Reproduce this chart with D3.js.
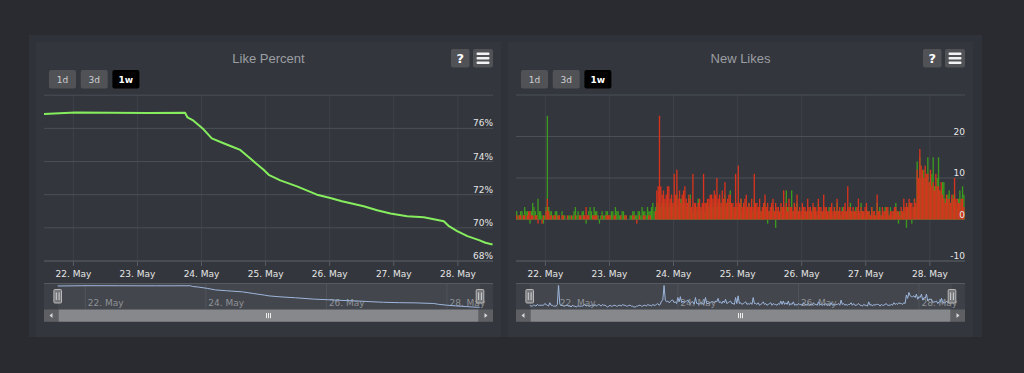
<!DOCTYPE html>
<html lang="en">
<head>
  <meta charset="UTF-8">
  <title>Like Percent / New Likes</title>
  <script src="https://d3js.org/d3.v7.min.js"></script>
  <style>
    body {
      margin: 0;
      background: #292b30;
    }

    svg {
      display: block;
    }

    .axis-label {
      font-family: "DejaVu Sans", sans-serif;
      font-size: 9px;
      fill: #e6e6e6;
    }

    .nav-label {
      font-family: "DejaVu Sans", sans-serif;
      font-size: 9px;
      fill: #8f9296;
    }

    .title {
      font-family: "Liberation Sans", Arial, sans-serif;
      font-size: 13px;
      fill: #9c9ea2;
    }

    .btn-text {
      font-family: "DejaVu Sans", sans-serif;
      font-size: 9px;
      fill: #cfd0d2;
    }
  </style>
</head>
<body>
  <svg id="chart" width="1024" height="373"></svg>
  <script>
    // Like Percent
    const likeTimes = [
      "2015-05-21 13:00", "2015-05-22 00:40", "2015-05-22 13:45", "2015-05-23 04:00",
      "2015-05-23 17:50", "2015-05-23 18:45", "2015-05-23 21:00", "2015-05-24 00:45",
      "2015-05-24 03:50", "2015-05-24 08:15", "2015-05-24 12:00", "2015-05-24 14:30",
      "2015-05-24 18:50", "2015-05-24 23:15", "2015-05-25 01:10", "2015-05-25 05:30",
      "2015-05-25 11:45", "2015-05-25 19:15", "2015-05-26 00:15", "2015-05-26 04:35",
      "2015-05-26 12:45", "2015-05-26 17:45", "2015-05-26 22:45", "2015-05-27 05:00",
      "2015-05-27 11:15", "2015-05-27 18:45", "2015-05-27 20:40", "2015-05-27 23:45",
      "2015-05-28 03:35", "2015-05-28 07:55", "2015-05-28 10:20", "2015-05-28 13:00"
    ];
    const likePercent = [
      76.86, 76.96, 76.94, 76.92, 76.94, 76.66, 76.46, 75.94,
      75.4, 75.1, 74.86, 74.7, 74.1, 73.5, 73.2, 72.86,
      72.5, 72.0, 71.8, 71.6, 71.3, 71.06, 70.86, 70.7,
      70.64, 70.4, 70.1, 69.8, 69.5, 69.26, 69.1, 69.0
    ];

    // New Likes, 30 minute buckets from 21 May 13:00 (one row = 6 hours)
    const newLikesStart = "2015-05-21 13:00";
    const greenLikes = [
      2, 1, 1, 2, 2, 1, 3, 2, 2, 1, -1, 2,
      4, 3, 2, 1, 5, 2, 2, 1, -1, 1, 3, 25,
      3, 2, 2, 1, 1, 2, 2, 1, 1, 0, 2, 1,
      1, 0, 0, 1, 1, 0, 1, 2, 3, 1, 2, 1,
      1, 2, 2, 1, -1, 1, 2, 3, 2, 1, 3, 2,
      2, 1, -1, 1, 2, 1, 1, 2, 2, 1, 1, 2,
      2, 1, 3, 2, 2, 1, 1, 2, 2, 1, 1, 0,
      0, 1, 1, 2, 2, 1, 1, 2, 2, 1, 3, 2,
      2, 1, 3, 2, 2, 3, 4, 2, 3, 4, 4, 3,
      3, 4, 5, 3, 4, 5, 3, 4, 5, 3, 4, 5,
      6, 3, 3, 5, 5, 4, 4, 3, 3, 5, 6, 2,
      2, 3, 3, 2, 5, 3, 2, 3, 3, 2, 4, 3,
      3, 4, 5, 3, 4, 5, 3, 4, 5, 3, 4, 3,
      6, 3, 3, 4, 7, 3, 3, 2, 4, 3, 3, 2,
      5, 2, 4, 3, 2, 3, 4, 2, 3, 2, 5, 3,
      2, 3, 3, 2, 2, 3, 4, 2, -1, 2, 2, 3,
      3, 2, -2, 2, 2, 1, 3, 2, 4, 2, 7, 3,
      3, 2, 7, 2, 2, 3, 4, 2, 2, 1, 3, 2,
      2, 1, 3, 2, 2, 1, 3, 2, 2, 1, 4, 2,
      2, 1, 3, 2, 2, 1, 3, 2, 2, 1, 3, 2,
      4, 2, 2, 1, 3, 2, 2, 1, 3, 2, 4, 2,
      2, 1, 3, 2, 2, 1, 4, 2, 2, 1, 3, 2,
      2, 1, 3, 1, 2, 1, 4, 2, 3, 1, 2, 1,
      3, 2, 2, 1, 3, 1, 2, 1, 4, 2, -1, 2,
      2, 1, 3, 2, -2, 3, 4, 2, -1, 3, 5, 3,
      14, 9, 15, 10, 9, 12, 10, 8, 15, 9, 9, 11,
      15, 8, 8, 10, 15, 7, 7, 9, 9, 5, 4, 6,
      7, 4, 5, 6, 6, 4, 3, 5, 7, 5, 8, 6
    ];
    const redLikes = [
      1, 0, 1, 1, 0, 1, 1, 0, 1, 2, 2, 1,
      1, 0, 1, 1, -1, 0, 0, -1, 1, 0, 2, 5,
      2, 1, 1, 0, 1, 1, 0, 1, 1, 0, 1, 1,
      0, 0, 1, 0, 0, 1, 0, 0, 1, 0, 0, 1,
      1, 0, 1, 1, 3, 1, 1, 0, 0, 1, 1, 1,
      1, 0, 0, 0, 1, 0, 0, 1, 1, 1, 1, 0,
      0, 1, 1, 0, 0, 0, 1, 0, 0, 1, 1, 0,
      0, 0, 0, 1, 1, 0, -1, 0, 1, 0, 0, 1,
      1, 0, 0, 1, 1, 0, 0, 0, 2, 7, 8, 25,
      8, 6, 7, 5, 6, 8, 8, 5, 6, 4, 11, 6,
      12, 5, 7, 4, 6, 7, 8, 5, 4, 6, 5, 3,
      11, 4, 4, 3, 4, 5, 3, 4, 11, 4, 4, 5,
      5, 6, 6, 5, 7, 6, 10, 5, 6, 4, 7, 5,
      9, 4, 5, 6, 6, 4, 4, 3, 11, 4, 13, 4,
      5, 3, 4, 5, 6, 3, 4, 3, 5, 3, 11, 4,
      4, 3, 5, 2, 3, 4, 6, 3, 4, 2, 3, 4,
      5, 2, 4, 3, 3, 2, 4, 3, 7, 3, 4, 2,
      5, 3, 3, 2, 4, 3, 6, 2, 3, 2, 4, 3,
      3, 2, 5, 3, 3, 2, 4, 3, 3, 2, 5, 3,
      3, 2, 6, 3, 3, 2, 2, 3, 4, 2, 3, 2,
      5, 2, 3, 2, 2, 3, 4, 2, 8, 3, 3, 2,
      3, 2, 2, 3, 5, 2, 3, 2, 2, 3, 4, 2,
      2, 1, 3, 2, 2, 1, 6, 2, 2, 1, 3, 2,
      2, 3, 3, 1, 2, 2, 2, 3, 3, 2, 2, 1,
      3, 2, 5, 3, 4, 3, 5, 4, 4, 3, 5, 4,
      12, 10, 17, 13, 12, 10, 13, 11, 11, 9, 12, 8,
      9, 7, 11, 8, 8, 7, 9, 6, 5, 4, 6, 5,
      5, 4, 6, 5, 10, 5, 5, 4, 4, 5, 5, 3
    ];

    // Axes
    const dayTicks = ["2015-05-22", "2015-05-23", "2015-05-24", "2015-05-25", "2015-05-26", "2015-05-27", "2015-05-28"];
    const navTicks = ["2015-05-22", "2015-05-24", "2015-05-26", "2015-05-28"];
    const percentTicks = [68, 70, 72, 74, 76, 78];
    const likesTicks = [-10, 0, 10, 20, 30];
    const rangeButtons = ["1d", "3d", "1w"];

    const parseTime = d3.timeParse("%Y-%m-%d %H:%M");
    const parseDay = d3.timeParse("%Y-%m-%d");
    const fmtDay = d3.timeFormat("%d. %b");
    const rangeStart = parseTime("2015-05-21 13:00");
    const rangeEnd = parseTime("2015-05-28 13:10");

    const svg = d3.select("#chart");

    // page frame
    svg.append("rect").attr("width", 1024).attr("height", 373).attr("fill", "#292b30");
    svg.append("rect").attr("x", 29).attr("y", 35).attr("width", 953).attr("height", 302).attr("fill", "#2f3238");

    function drawPanel(px, title) {
      const p = { left: px + 8, right: px + 457, top: 95, bottom: 261 };

      svg.append("rect")
        .attr("x", px).attr("y", 42).attr("width", 465).attr("height", 295)
        .attr("fill", "#33363d");

      svg.append("text")
        .attr("class", "title")
        .attr("x", (p.left + p.right) / 2)
        .attr("y", 62.5)
        .attr("text-anchor", "middle")
        .text(title);

      // range selector buttons
      const btn = svg.append("g");
      rangeButtons.forEach((b, i) => {
        const bx = px + 13 + i * 31.7;
        const active = b === "1w";
        btn.append("rect")
          .attr("x", bx).attr("y", 70).attr("width", 27).attr("height", 18.5).attr("rx", 2)
          .attr("fill", active ? "#000" : "#505256");
        btn.append("text")
          .attr("class", "btn-text")
          .attr("x", bx + 13.5).attr("y", 82.5)
          .attr("text-anchor", "middle")
          .style("fill", active ? "#fff" : null)
          .style("font-weight", active ? "bold" : null)
          .text(b);
      });

      // help + menu buttons
      svg.append("rect")
        .attr("x", px + 415).attr("y", 49).attr("width", 18.5).attr("height", 18.5).attr("rx", 2)
        .attr("fill", "#505256");
      svg.append("text")
        .attr("x", px + 424.2).attr("y", 63)
        .attr("text-anchor", "middle")
        .attr("font-family", "DejaVu Sans, sans-serif")
        .attr("font-size", 13).attr("font-weight", "bold")
        .attr("fill", "#fff")
        .text("?");
      svg.append("rect")
        .attr("x", px + 437).attr("y", 49).attr("width", 20).attr("height", 18.5).attr("rx", 2)
        .attr("fill", "#505256");
      [0, 1, 2].forEach(i => {
        svg.append("rect")
          .attr("x", px + 440.5).attr("y", 52.5 + i * 4.5).attr("width", 13).attr("height", 2.6)
          .attr("rx", 1).attr("fill", "#f2f2f2");
      });

      const x = d3.scaleTime().domain([rangeStart, rangeEnd]).range([p.left, p.right]);
      const days = dayTicks.map(parseDay);

      // vertical grid
      svg.append("g")
        .selectAll("line")
        .data(days)
        .enter()
        .append("line")
        .attr("x1", d => x(d)).attr("x2", d => x(d))
        .attr("y1", p.top).attr("y2", p.bottom)
        .attr("stroke", "#3e4249");

      // x axis line, ticks, labels
      svg.append("line")
        .attr("x1", p.left).attr("x2", p.right)
        .attr("y1", p.bottom).attr("y2", p.bottom)
        .attr("stroke", "#5a5e65");
      svg.append("g")
        .selectAll("line")
        .data(days)
        .enter()
        .append("line")
        .attr("x1", d => x(d)).attr("x2", d => x(d))
        .attr("y1", p.bottom).attr("y2", p.bottom + 5)
        .attr("stroke", "#5a5e65");
      svg.append("g")
        .selectAll("text")
        .data(days)
        .enter()
        .append("text")
        .attr("class", "axis-label")
        .attr("x", d => x(d))
        .attr("y", 276.5)
        .attr("text-anchor", "middle")
        .text(d => fmtDay(d));

      // navigator
      const nav = { top: 283.5, bottom: 309.3 };
      svg.append("rect")
        .attr("x", p.left).attr("y", nav.top).attr("width", p.right - p.left).attr("height", nav.bottom - nav.top)
        .attr("fill", "#3d4047");
      const xNav = d3.scaleTime().domain([rangeStart, rangeEnd]).range([p.left + 13.7, p.right - 13]);
      svg.append("rect")
        .attr("x", xNav.range()[0]).attr("y", nav.top)
        .attr("width", xNav.range()[1] - xNav.range()[0]).attr("height", nav.bottom - nav.top)
        .attr("fill", "#43464d");
      svg.append("line")
        .attr("x1", p.left).attr("x2", p.right)
        .attr("y1", nav.top).attr("y2", nav.top)
        .attr("stroke", "#565a61");
      const navDays = navTicks.map(parseDay);
      svg.append("g")
        .selectAll("line")
        .data(navDays)
        .enter()
        .append("line")
        .attr("x1", d => xNav(d)).attr("x2", d => xNav(d))
        .attr("y1", nav.top).attr("y2", nav.bottom)
        .attr("stroke", "#50545b");
      svg.append("g")
        .selectAll("text")
        .data(navDays)
        .enter()
        .append("text")
        .attr("class", "nav-label")
        .attr("x", d => xNav(d) + 2.5)
        .attr("y", 305.5)
        .text(d => fmtDay(d));

      // scrollbar
      const sb = { y: 309.5, h: 12.2 };
      svg.append("rect")
        .attr("x", p.left).attr("y", sb.y).attr("width", p.right - p.left).attr("height", sb.h)
        .attr("fill", "#4a4c50");
      svg.append("rect")
        .attr("x", p.left + 14.5).attr("y", sb.y).attr("width", p.right - p.left - 29).attr("height", sb.h)
        .attr("fill", "#86888b");
      [p.left, p.right - 14].forEach((bx, i) => {
        svg.append("rect")
          .attr("x", bx).attr("y", sb.y).attr("width", 14).attr("height", sb.h)
          .attr("fill", "#5d5f63");
        const cx = bx + 7, cy = sb.y + sb.h / 2;
        const pts = i === 0
          ? [[cx + 1.5, cy - 2.5], [cx + 1.5, cy + 2.5], [cx - 1.5, cy]]
          : [[cx - 1.5, cy - 2.5], [cx - 1.5, cy + 2.5], [cx + 1.5, cy]];
        svg.append("path").attr("d", d3.line()(pts) + "Z").attr("fill", "#d8d8d8");
      });
      const gx = (p.left + p.right) / 2;
      [-2, 0, 2].forEach(o => {
        svg.append("line")
          .attr("x1", gx + o).attr("x2", gx + o)
          .attr("y1", sb.y + 3.5).attr("y2", sb.y + sb.h - 3.5)
          .attr("stroke", "#eeeeee");
      });

      return { p, x, xNav, nav };
    }

    function drawGrid(panel, y, ticks) {
      const p = panel.p;
      svg.append("g")
        .selectAll("line")
        .data(ticks)
        .enter()
        .append("line")
        .attr("x1", p.left).attr("x2", p.right)
        .attr("y1", d => y(d)).attr("y2", d => y(d))
        .attr("stroke", "#4b4f56");
    }

    function drawYLabels(panel, y, ticks, fmt) {
      // top tick has no label
      svg.append("g")
        .selectAll("text")
        .data(ticks.slice(0, -1))
        .enter()
        .append("text")
        .attr("class", "axis-label")
        .attr("x", panel.p.right)
        .attr("y", d => y(d) - 2)
        .attr("text-anchor", "end")
        .text(fmt);
    }

    function drawHandles(panel) {
      panel.xNav.range().forEach(hx => {
        svg.append("rect")
          .attr("x", hx - 3.8).attr("y", 289.5).attr("width", 7.6).attr("height", 13.5).attr("rx", 1)
          .attr("fill", "#76787c").attr("stroke", "#b8b8b8");
        [-1.4, 1.4].forEach(o => {
          svg.append("line")
            .attr("x1", hx + o).attr("x2", hx + o)
            .attr("y1", 292.5).attr("y2", 300)
            .attr("stroke", "#d0d0d0");
        });
      });
    }

    // ---------- Like Percent ----------
    const left = drawPanel(36, "Like Percent");
    const yPct = d3.scaleLinear().domain([68, 78]).range([261, 95.2]);
    drawGrid(left, yPct, percentTicks);

    const likeData = likeTimes.map((t, i) => ({ t: parseTime(t), v: likePercent[i] }));

    svg.append("path")
      .datum(likeData)
      .attr("fill", "none")
      .attr("stroke", "#86ee5e")
      .attr("stroke-width", 2)
      .attr("stroke-linejoin", "round")
      .attr("d", d3.line().x(d => left.x(d.t)).y(d => yPct(d.v)));

    drawYLabels(left, yPct, percentTicks, d => d + "%");

    const yPctNav = d3.scaleLinear().domain(d3.extent(likePercent)).range([307.3, 285.7]);
    svg.append("path")
      .datum(likeData)
      .attr("fill", "none")
      .attr("stroke", "#9db6dc")
      .attr("stroke-width", 1)
      .attr("d", d3.line().x(d => left.xNav(d.t)).y(d => yPctNav(d.v)));
    drawHandles(left);

    // ---------- New Likes ----------
    const right = drawPanel(508, "New Likes");
    const yLikes = d3.scaleLinear().domain([-10, 30]).range([261, 95]);
    drawGrid(right, yLikes, likesTicks);

    const t0 = parseTime(newLikesStart);
    const slotData = greenLikes.map((g, i) => ({
      t: d3.timeMinute.offset(t0, 30 * i),
      t1: d3.timeMinute.offset(t0, 30 * (i + 1)),
      green: g,
      red: redLikes[i]
    }));

    svg.append("clipPath")
      .attr("id", "likes-clip")
      .append("rect")
      .attr("x", right.p.left).attr("y", right.p.top)
      .attr("width", right.p.right - right.p.left).attr("height", right.p.bottom - right.p.top);

    const bars = svg.append("g").attr("clip-path", "url(#likes-clip)");
    [["green", "#3c9a1f"], ["red", "#d8341d"]].forEach(([key, color]) => {
      bars.append("g")
        .selectAll("rect")
        .data(slotData)
        .enter()
        .append("rect")
        .attr("x", d => right.x(d.t))
        .attr("width", d => right.x(d.t1) - right.x(d.t))
        .attr("y", d => yLikes(Math.max(0, d[key])))
        .attr("height", d => Math.abs(yLikes(d[key]) - yLikes(0)))
        .attr("fill", color);
    });

    drawYLabels(right, yLikes, likesTicks, d => d);

    const navValues = slotData.map(d => Math.max(d.green, d.red));
    const yLikesNav = d3.scaleLinear().domain(d3.extent(navValues)).range([307, 285.5]);
    svg.append("path")
      .datum(slotData)
      .attr("fill", "none")
      .attr("stroke", "#9db6dc")
      .attr("stroke-width", 1)
      .attr("d", d3.line().x(d => right.xNav(d.t)).y((d, i) => yLikesNav(navValues[i])));
    drawHandles(right);
  </script>
</body>
</html>
